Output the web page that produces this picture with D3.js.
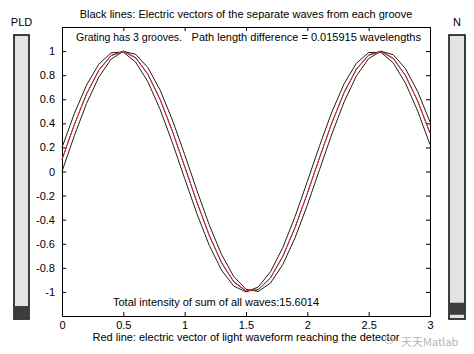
<!DOCTYPE html>
<html><head><meta charset="utf-8">
<script src="https://cdn.jsdelivr.net/npm/d3@7"></script>
<style>
html,body{margin:0;padding:0;background:#fff;}
svg{display:block;font-family:"Liberation Sans",Arial,Helvetica,sans-serif;}
</style></head>
<body>
<svg id="c" width="474" height="354"></svg>
<script>
// ---- data ----
const xValues = [0,0.1,0.2,0.3,0.4,0.5,0.6,0.7,0.8,0.9,1.0,1.1,1.2,1.3,1.4,1.5,1.6,1.7,1.8,1.9,2.0,2.1,2.2,2.3,2.4,2.5,2.6,2.7,2.8,2.9,3.0];
const groove1 = [0,0.2955,0.5646,0.7833,0.9320,0.9975,0.9738,0.8632,0.6755,0.4274,0.1411,-0.1577,-0.4425,-0.6878,-0.8716,-0.9775,-0.9962,-0.9258,-0.7728,-0.5507,-0.2794,0.0168,0.3115,0.5784,0.7937,0.9380,0.9985,0.9699,0.8546,0.6630,0.4121];
const groove2 = [0.0998,0.3894,0.6442,0.8415,0.9636,0.9996,0.9463,0.8085,0.5985,0.3350,0.0416,-0.2555,-0.5298,-0.7568,-0.9162,-0.9937,-0.9825,-0.8835,-0.7055,-0.4646,-0.1822,0.1165,0.4048,0.6570,0.8504,0.9679,0.9989,0.9407,0.7985,0.5849,0.3191];
const groove3 = [0.1987,0.4794,0.7174,0.8912,0.9854,0.9917,0.9093,0.7457,0.5155,0.2392,-0.0584,-0.3508,-0.6119,-0.8183,-0.9516,-0.9999,-0.9589,-0.8323,-0.6313,-0.3739,-0.0831,0.2151,0.4941,0.7290,0.8987,0.9882,0.9894,0.9022,0.7344,0.5010,0.2229];
const detector = [0.0995,0.3881,0.6421,0.8387,0.9604,0.9963,0.9432,0.8058,0.5965,0.3339,0.0415,-0.2547,-0.5281,-0.7543,-0.9132,-0.9904,-0.9793,-0.8806,-0.7032,-0.4631,-0.1816,0.1161,0.4035,0.6548,0.8476,0.9647,0.9956,0.9376,0.7959,0.5830,0.3180];
const xTicks = [0,0.5,1,1.5,2,2.5,3];
const yTicks = [-1,-0.8,-0.6,-0.4,-0.2,0,0.2,0.4,0.6,0.8,1];
const titleText = "Black lines: Electric vectors of the separate waves from each groove";
const xLabelText = "Red line: electric vector of light waveform reaching the detector";
const infoLeft = "Grating has 3 grooves.";
const infoRight = "Path length difference = 0.015915 wavelengths";
const intensityText = "Total intensity of sum of all waves:15.6014";
const sliderNames = ["PLD","N"];
const sliderValues = [0, 0.012];  // fraction of slider range

// ---- layout ----
const svg = d3.select("#c");
const L=62, R=430, T=27, B=316;
const x = d3.scaleLinear().domain([0,3]).range([L,R]);
const y = d3.scaleLinear().domain([-1.2,1.2]).range([B,T]);
const fs = "11px";

// axes
const gx = svg.append("g").attr("transform",`translate(0,${B})`)
  .call(d3.axisBottom(x).tickValues(xTicks).tickFormat(d=>String(d)).tickSizeInner(-4).tickSizeOuter(0).tickPadding(5));
const gxt = svg.append("g").attr("transform",`translate(0,${T})`)
  .call(d3.axisTop(x).tickValues(xTicks).tickFormat("").tickSizeInner(-4).tickSizeOuter(0));
const gy = svg.append("g").attr("transform",`translate(${L},0)`)
  .call(d3.axisLeft(y).tickValues(yTicks).tickFormat(d=>String(d)).tickSizeInner(-4).tickSizeOuter(0).tickPadding(7));
const gyr = svg.append("g").attr("transform",`translate(${R},0)`)
  .call(d3.axisRight(y).tickValues(yTicks).tickFormat("").tickSizeInner(-4).tickSizeOuter(0));
[gx,gxt,gy,gyr].forEach(g=>{
  g.selectAll("path,line").attr("stroke","#000").attr("stroke-width",1);
  g.selectAll("text").attr("font-size",fs).attr("fill","#000").attr("font-family",'"Liberation Sans",Arial,sans-serif');
});

// lines
const pts = arr => xValues.map((v,i)=>[v,arr[i]]);
const line = d3.line().x(d=>x(d[0])).y(d=>y(d[1]));
[groove1,groove2,groove3].forEach(s=>{
  svg.append("path").attr("d",line(pts(s))).attr("fill","none").attr("stroke","#1f1f1f").attr("stroke-width",1);
});
svg.append("path").attr("d",line(pts(detector))).attr("fill","none").attr("stroke","#e62a3a").attr("stroke-width",1);

// texts
svg.append("text").attr("x",(L+R)/2).attr("y",18).attr("text-anchor","middle").attr("font-size",fs).text(titleText);
svg.append("text").attr("x",76).attr("y",41).attr("font-size",fs).attr("textLength",106).attr("lengthAdjust","spacingAndGlyphs").text(infoLeft);
svg.append("text").attr("x",421).attr("y",41).attr("text-anchor","end").attr("font-size",fs).text(infoRight);
svg.append("text").attr("x",113).attr("y",306).attr("font-size",fs).text(intensityText);
svg.append("text").attr("x",(L+R)/2).attr("y",341).attr("text-anchor","middle").attr("font-size",fs).text(xLabelText);

// sliders
const sliderX = [14, 449];
const sliderW = [15, 16];
const sTop = 35, sBot = 319, thumbH = 12;
const sScale = d3.scaleLinear().domain([0,1]).range([sBot-1-thumbH, sTop+1]);
sliderNames.forEach((n,i)=>{
  const g = svg.append("g");
  g.append("rect").attr("x",sliderX[i]).attr("y",sTop).attr("width",sliderW[i]).attr("height",sBot-sTop)
    .attr("fill","#e3e3e3").attr("stroke","#111").attr("stroke-width",1.6);
  g.append("rect").attr("x",sliderX[i]+1).attr("y",sScale(sliderValues[i])).attr("width",sliderW[i]-2).attr("height",thumbH)
    .attr("fill","#3c3c3c");
  svg.append("text").attr("x",sliderX[i]+sliderW[i]/2).attr("y",26).attr("text-anchor","middle").attr("font-size",fs).text(n);
});

// watermark
svg.append("circle").attr("cx",389).attr("cy",340).attr("r",4).attr("fill","none").attr("stroke","#c8c8c8").attr("stroke-width",1);
svg.append("text").attr("x",401).attr("y",346).attr("font-size","11px").attr("fill","#b5b5b5")
  .attr("font-family",'"Noto Sans CJK SC",sans-serif').text("天天Matlab");
</script>
</body></html>
